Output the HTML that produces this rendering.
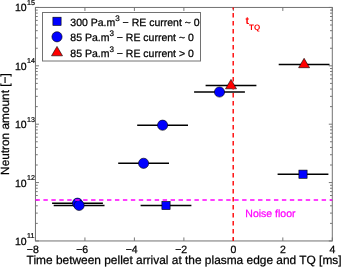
<!DOCTYPE html><html><head><meta charset="utf-8"><title>Neutron amount</title><style>html,body{margin:0;padding:0;background:#fff;overflow:hidden}svg{display:block}text{font-family:"Liberation Sans",sans-serif;fill:#000;text-rendering:geometricPrecision;stroke:#000;stroke-width:0.25px}</style></head><body>
<svg width="342" height="267" viewBox="0 0 342 267">
<rect width="342" height="267" fill="#fff"/>
<path d="M35.45 240.95v-3.5M35.45 7.45v3.5M84.93 240.95v-3.5M84.93 7.45v3.5M134.40 240.95v-3.5M134.40 7.45v3.5M183.88 240.95v-3.5M183.88 7.45v3.5M233.35 240.95v-3.5M233.35 7.45v3.5M282.82 240.95v-3.5M282.82 7.45v3.5M332.30 240.95v-3.5M332.30 7.45v3.5M35.45 240.95h3.5M332.3 240.95h-3.5M35.45 223.38h2.3M332.3 223.38h-2.3M35.45 213.10h2.3M332.3 213.10h-2.3M35.45 205.80h2.3M332.3 205.80h-2.3M35.45 200.15h2.3M332.3 200.15h-2.3M35.45 195.53h2.3M332.3 195.53h-2.3M35.45 191.62h2.3M332.3 191.62h-2.3M35.45 188.23h2.3M332.3 188.23h-2.3M35.45 185.25h2.3M332.3 185.25h-2.3M35.45 182.57h3.5M332.3 182.57h-3.5M35.45 165.00h2.3M332.3 165.00h-2.3M35.45 154.72h2.3M332.3 154.72h-2.3M35.45 147.43h2.3M332.3 147.43h-2.3M35.45 141.77h2.3M332.3 141.77h-2.3M35.45 137.15h2.3M332.3 137.15h-2.3M35.45 133.24h2.3M332.3 133.24h-2.3M35.45 129.86h2.3M332.3 129.86h-2.3M35.45 126.87h2.3M332.3 126.87h-2.3M35.45 124.20h3.5M332.3 124.20h-3.5M35.45 106.63h2.3M332.3 106.63h-2.3M35.45 96.35h2.3M332.3 96.35h-2.3M35.45 89.05h2.3M332.3 89.05h-2.3M35.45 83.40h2.3M332.3 83.40h-2.3M35.45 78.78h2.3M332.3 78.78h-2.3M35.45 74.87h2.3M332.3 74.87h-2.3M35.45 71.48h2.3M332.3 71.48h-2.3M35.45 68.50h2.3M332.3 68.50h-2.3M35.45 65.82h3.5M332.3 65.82h-3.5M35.45 48.25h2.3M332.3 48.25h-2.3M35.45 37.97h2.3M332.3 37.97h-2.3M35.45 30.68h2.3M332.3 30.68h-2.3M35.45 25.02h2.3M332.3 25.02h-2.3M35.45 20.40h2.3M332.3 20.40h-2.3M35.45 16.49h2.3M332.3 16.49h-2.3M35.45 13.11h2.3M332.3 13.11h-2.3M35.45 10.12h2.3M332.3 10.12h-2.3M35.45 7.45h3.5M332.3 7.45h-3.5" stroke="#555" stroke-width="0.8" fill="none"/>
<rect x="35.45" y="7.45" width="296.85" height="233.5" fill="none" stroke="#727272" stroke-width="1"/>
<line x1="52.10" x2="102.90" y1="203.20" y2="203.20" stroke="#000" stroke-width="1.5"/>
<line x1="53.70" x2="104.50" y1="205.40" y2="205.40" stroke="#000" stroke-width="1.5"/>
<line x1="140.60" x2="191.40" y1="205.50" y2="205.50" stroke="#000" stroke-width="1.5"/>
<line x1="118.20" x2="169.00" y1="163.30" y2="163.30" stroke="#000" stroke-width="1.5"/>
<line x1="137.20" x2="188.00" y1="125.20" y2="125.20" stroke="#000" stroke-width="1.5"/>
<line x1="194.10" x2="244.90" y1="92.00" y2="92.00" stroke="#000" stroke-width="1.5"/>
<line x1="205.60" x2="256.40" y1="85.60" y2="85.60" stroke="#000" stroke-width="1.5"/>
<line x1="278.70" x2="329.50" y1="64.50" y2="64.50" stroke="#000" stroke-width="1.5"/>
<line x1="277.60" x2="328.40" y1="174.20" y2="174.20" stroke="#000" stroke-width="1.5"/>
<circle cx="77.50" cy="203.20" r="5.1" fill="#0000ff" stroke="#000" stroke-width="0.6"/>
<circle cx="79.10" cy="205.40" r="5.1" fill="#0000ff" stroke="#000" stroke-width="0.6"/>
<rect x="161.90" y="201.40" width="8.2" height="8.2" fill="#0000ff" stroke="#000" stroke-width="0.6"/>
<circle cx="143.60" cy="163.30" r="5.1" fill="#0000ff" stroke="#000" stroke-width="0.6"/>
<circle cx="162.60" cy="125.20" r="5.1" fill="#0000ff" stroke="#000" stroke-width="0.6"/>
<circle cx="219.50" cy="92.00" r="5.1" fill="#0000ff" stroke="#000" stroke-width="0.6"/>
<path d="M231.00 79.40L236.50 88.80H225.50Z" fill="#ff0000" stroke="#000" stroke-width="0.6"/>
<path d="M304.10 58.30L309.60 67.70H298.60Z" fill="#ff0000" stroke="#000" stroke-width="0.6"/>
<rect x="298.90" y="170.10" width="8.2" height="8.2" fill="#0000ff" stroke="#000" stroke-width="0.6"/>
<line x1="35.45" x2="332.3" y1="200.0" y2="200.0" stroke="#ff00ff" stroke-width="1.4" stroke-dasharray="4.4 3.55"/>
<clipPath id="cp"><rect x="35.45" y="7.45" width="296.85" height="233.5"/></clipPath>
<line x1="233.2" x2="233.2" y1="5.1" y2="240.95" stroke="#ff0000" stroke-width="1.4" stroke-dasharray="4.4 3.6" clip-path="url(#cp)"/>
<rect x="42.5" y="12.5" width="158" height="48.5" fill="#fff" stroke="#727272" stroke-width="1"/>
<rect x="52.90" y="17.20" width="8.2" height="8.2" fill="#0000ff" stroke="#000" stroke-width="0.6"/>
<circle cx="57.00" cy="36.80" r="5.1" fill="#0000ff" stroke="#000" stroke-width="0.6"/>
<path d="M57.00 46.40L62.50 55.80H51.50Z" fill="#ff0000" stroke="#000" stroke-width="0.6"/>
<text x="70.3" y="25.5" font-size="10.5">300 Pa.m<tspan dy="-4.6" font-size="8">3</tspan><tspan dy="4.6"> − RE current ~ 0</tspan></text>
<text x="70.3" y="40.9" font-size="10.5">85 Pa.m<tspan dy="-4.6" font-size="8">3</tspan><tspan dy="4.6"> − RE current ~ 0</tspan></text>
<text x="70.3" y="56.8" font-size="10.5">85 Pa.m<tspan dy="-4.6" font-size="8">3</tspan><tspan dy="4.6"> − RE current &gt; 0</tspan></text>
<text x="32.75" y="252.8" font-size="10.5" text-anchor="middle">−8</text>
<text x="82.23" y="252.8" font-size="10.5" text-anchor="middle">−6</text>
<text x="131.70" y="252.8" font-size="10.5" text-anchor="middle">−4</text>
<text x="181.18" y="252.8" font-size="10.5" text-anchor="middle">−2</text>
<text x="233.35" y="252.8" font-size="10.5" text-anchor="middle">0</text>
<text x="282.82" y="252.8" font-size="10.5" text-anchor="middle">2</text>
<text x="332.30" y="252.8" font-size="10.5" text-anchor="middle">4</text>
<text x="15.0" y="244.95" font-size="10.5">10<tspan dx="0.3" dy="-6.5" font-size="7.1" style="stroke-width:0.22px">11</tspan></text>
<text x="15.0" y="186.57" font-size="10.5">10<tspan dx="0.3" dy="-6.5" font-size="7.1" style="stroke-width:0.22px">12</tspan></text>
<text x="15.0" y="128.20" font-size="10.5">10<tspan dx="0.3" dy="-6.5" font-size="7.1" style="stroke-width:0.22px">13</tspan></text>
<text x="15.0" y="69.82" font-size="10.5">10<tspan dx="0.3" dy="-6.5" font-size="7.1" style="stroke-width:0.22px">14</tspan></text>
<text x="15.0" y="11.45" font-size="10.5">10<tspan dx="0.3" dy="-6.5" font-size="7.1" style="stroke-width:0.22px">15</tspan></text>
<text x="26.6" y="264.1" font-size="11.9" textLength="315" lengthAdjust="spacing">Time between pellet arrival at the plasma edge and TQ [ms]</text>
<text transform="translate(8.6,174.9) rotate(-90)" font-size="11.8" textLength="101.6" lengthAdjust="spacing">Neutron amount [−]</text>
<text x="245.6" y="23.8" font-size="10.5" font-weight="bold" style="fill:#ff0000;stroke:none">t<tspan dy="5.9" font-size="8">TQ</tspan></text>
<text x="245.3" y="216.8" font-size="10.5" style="fill:#ff00ff;stroke:#ff00ff">Noise floor</text>
</svg></body></html>
